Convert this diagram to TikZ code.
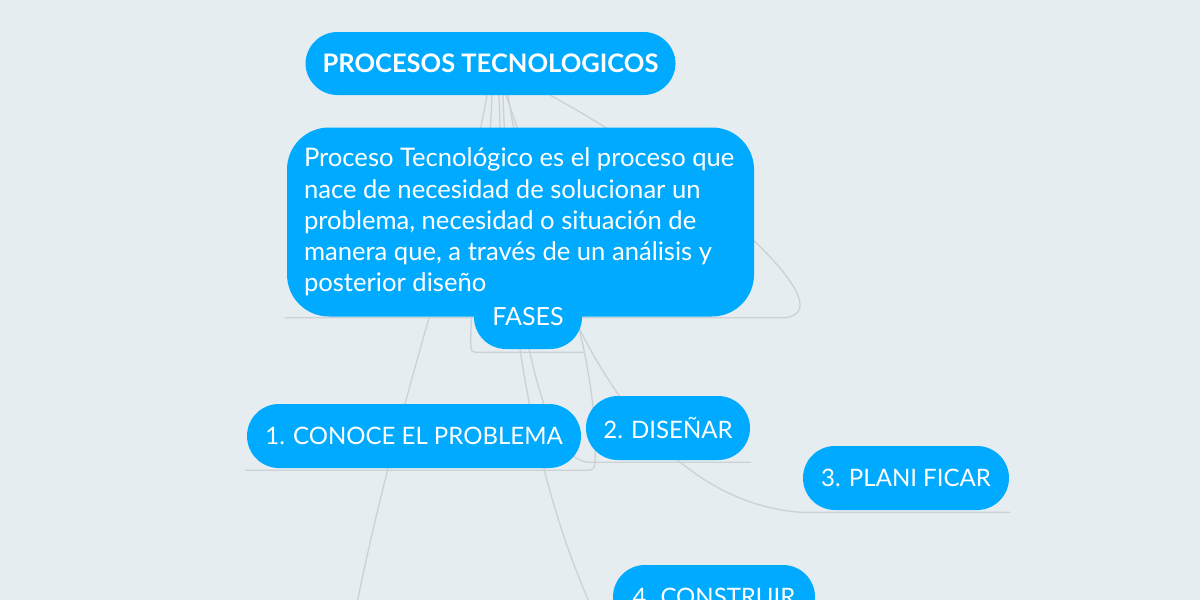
\documentclass[tikz,border=0pt]{standalone}
\usepackage{fontspec}
\setmainfont{Lato}
\usepackage{tikz}
\usetikzlibrary{calc}
\definecolor{mmblue}{RGB}{0,170,255}
\definecolor{mmbg}{RGB}{229,237,241}
\definecolor{mmline}{RGB}{204,209,213}
\pgfdeclarelayer{bg}
\pgfsetlayers{bg,main}

\begin{document}
\begin{tikzpicture}[x=1pt, y=-1pt,
  every node/.style={fill=mmblue, text=white, inner sep=0pt, font=\fontsize{24}{31}\selectfont},
  pnode/.style={minimum height=64pt, rounded corners=32pt},
  rnode/.style={pnode, minimum height=63pt, font=\fontsize{25.5}{31}\selectfont\bfseries},
  dnode/.style={rounded corners=42pt, align=left, minimum width=467pt, minimum height=189pt,
    font=\fontsize{25.6}{31.2}\selectfont},
  conn/.style={draw=mmline, line width=1.3pt}]

\useasboundingbox (0,0) rectangle (1200,600);
\clip (0,0) rectangle (1200,600);

\node (n0) [rnode, minimum width=370pt] at (490.5,63.5) {PROCESOS TECNOLOGICOS};
\node (n1) [dnode] at (520.5,222) {\makebox[433pt][l]{Proceso Tecnológico es el proceso que}\\
  nace de necesidad de solucionar un\\
  problema, necesidad o situación de\\
  manera que, a través de un análisis y\\
  posterior diseño};
\node (n2) [pnode, minimum width=108pt, font=\fontsize{25}{31}\selectfont] at (528,317) {FASES};
\node (n3) [pnode, minimum width=334pt] at (414,436) {1. CONOCE EL PROBLEMA};
\node (n4) [pnode, minimum width=164pt] at (668,428) {2. DISEÑAR};
\node (n5) [pnode, minimum width=206pt] at (906,478) {3. PLANI FICAR};
\node (n6) [pnode, minimum width=202pt] at (714,597) {4. CONSTRUIR};
\coordinate (n7) at (350,640);

\begin{pgfonlayer}{bg}
\fill[mmbg] (0,0) rectangle (1200,600);
% definicion
\draw[conn] ($(n0.south)+(59.5,0)$) .. controls (690,170) and (850,310) .. ($(n1.south east)+(31,1)$) -- ($(n1.south west)+(-2,1)$);
% fases
\draw[conn] ($(n0.south)+(1.5,0)$) .. controls (488,200) and (471,280) .. ($(n2.south west)+(-3,-9)$)
  .. controls ($(n2.south west)+(-3,3)$) .. ($(n2.south west)+(5,3)$) -- ($(n2.south east)+(2,3)$);
% 1
\draw[conn] ($(n0.south)+(15.5,0)$) .. controls (560,250) and (596,360) .. ($(n3.south east)+(14,-18)$)
  .. controls ($(n3.south east)+(14,2)$) .. ($(n3.south east)+(4,2)$) -- ($(n3.south west)+(-2,2)$);
% 2
\draw[conn] ($(n0.south)+(12.5,0)$) .. controls (510,300) and (540,455) .. ($(n4.south west)+(1,2)$) -- ($(n4.south east)+(1,2)$);
% 3
\draw[conn] ($(n0.south)+(17.5,0)$) .. controls (540,300) and (640,500) .. ($(n5.south west)+(-3,2)$) -- ($(n5.south east)+(1,2)$);
% 4
\draw[conn] ($(n0.south)+(8.5,0)$) .. controls (505,300) and (530,480) .. ($(n6.south west)+(-13,-4)$)
  .. controls ($(n6.south west)+(-3,3)$) .. ($(n6.south west)+(12,3)$) -- ($(n6.south east)+(1,3)$);
% hacia abajo
\draw[conn] ($(n0.south)+(-3.5,0)$) .. controls (470,200) and (390,420) .. (n7);
\end{pgfonlayer}
\end{tikzpicture}
\end{document}
